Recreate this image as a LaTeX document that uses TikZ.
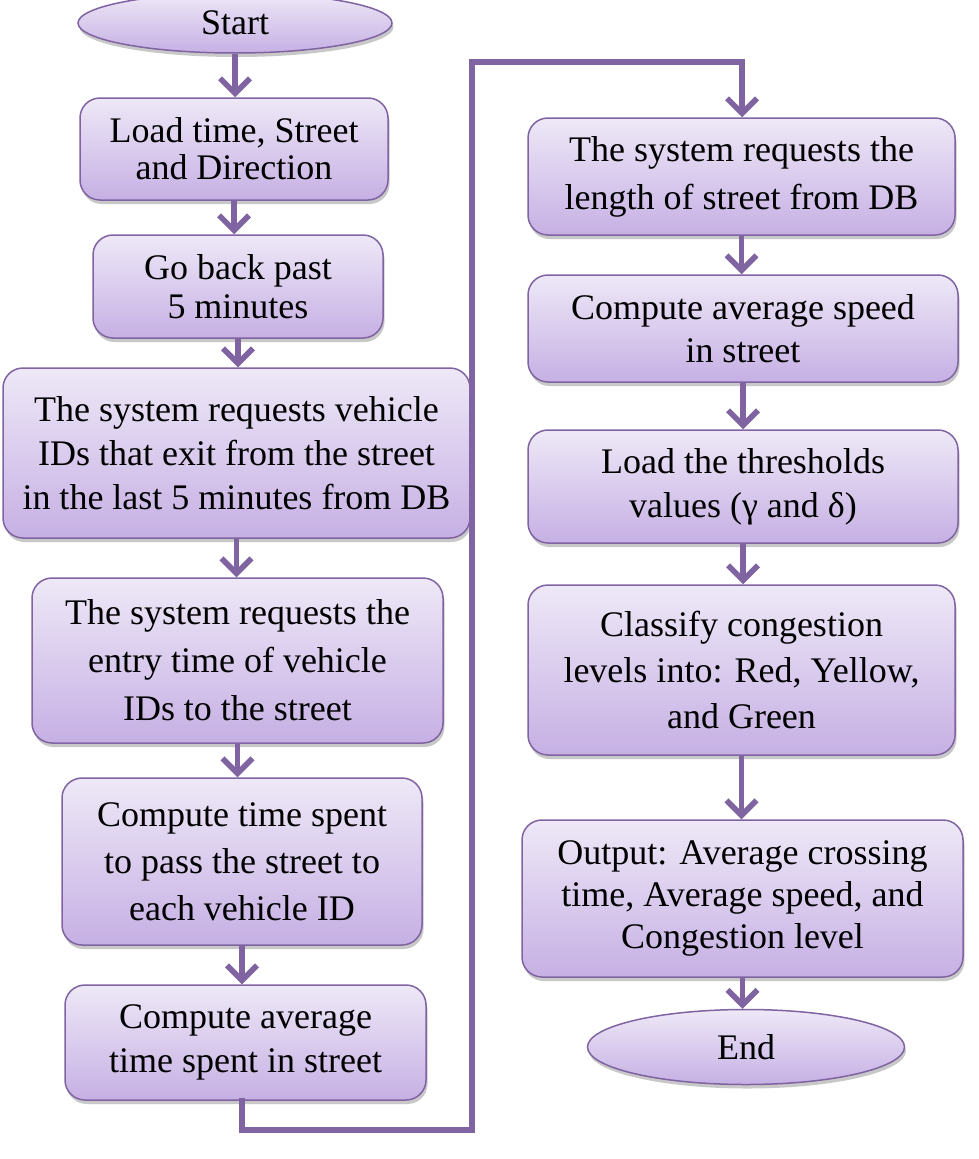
\documentclass[tikz,border=0pt]{standalone}
\usepackage{fontspec}
\setmainfont{Liberation Serif}
\usetikzlibrary{arrows.meta,shapes.geometric,shadows}
\definecolor{pborder}{HTML}{8064A2}
\definecolor{ptop}{HTML}{EEE8F7}
\definecolor{pbot}{HTML}{C6B0E4}
\begin{document}
\begin{tikzpicture}[x=1pt,y=-1pt,
  base/.style={draw=pborder, line width=1.5pt, top color=ptop, bottom color=pbot,
    align=center, inner sep=2pt, text=black,
    drop shadow={shadow xshift=1.5pt, shadow yshift=-4pt, opacity=0.3, fill=black!70}},
  box/.style={base, rounded corners=20pt, font=\fontsize{36}{45}\selectfont},
  term/.style={base, ellipse, inner sep=0pt, font=\fontsize{36}{40}\selectfont},
  arr/.style={draw=pborder, line width=5.5pt, -{Straight Barb[length=15pt,width=30pt,line width=5.5pt]}},
  link/.style={draw=pborder, line width=5.5pt, line cap=rect, line join=miter}
]
\useasboundingbox[fill=white] (0,0) rectangle (979,1159);

% left column
\node[term, minimum width=314pt, minimum height=60pt] (start) at (235,23) {Start};
\node[box, minimum width=308pt, minimum height=102pt, font=\fontsize{36}{37}\selectfont] (b1) at (234,149) {Load time, Street\\and Direction};
\node[box, minimum width=290pt, minimum height=103pt, font=\fontsize{36}{39}\selectfont] (b2) at (238,286.5) {Go back past\\5 minutes};
\node[box, minimum width=467pt, minimum height=170pt, font=\fontsize{36}{44}\selectfont] (b3) at (236.5,453) {The system requests vehicle\\IDs that exit from the street\\in the last 5 minutes from DB};
\node[box, minimum width=411pt, minimum height=165pt, font=\fontsize{36}{48}\selectfont] (b4) at (237.5,660.5) {The system requests the\\entry time of vehicle\\IDs to the street};
\node[box, minimum width=360pt, minimum height=167pt, font=\fontsize{36}{47}\selectfont] (b5) at (242,861.5) {Compute time spent\\to pass the street to\\each vehicle ID};
\node[box, minimum width=361pt, minimum height=115pt, font=\fontsize{36}{44}\selectfont] (b6) at (245.5,1042.5) {Compute average\\time spent in street};

% right column
\node[box, minimum width=427pt, minimum height=117pt, font=\fontsize{36}{48}\selectfont] (r1) at (741.5,176.5) {The system requests the\\length of street from DB};
\node[box, minimum width=430pt, minimum height=107pt, font=\fontsize{36}{43}\selectfont] (r2) at (743,328.5) {Compute average speed\\in street};
\node[box, minimum width=430pt, minimum height=113pt, font=\fontsize{36}{44}\selectfont] (r3) at (743,486.5) {Load the thresholds\\values (γ and δ)};
\node[box, minimum width=427pt, minimum height=170pt, font=\fontsize{36}{46}\selectfont] (r4) at (741.5,670) {Classify congestion\\levels into: Red, Yellow,\\and Green};
\node[box, minimum width=441pt, minimum height=157pt, font=\fontsize{36}{42}\selectfont] (r5) at (742.5,898.5) {Output: Average crossing\\time, Average speed, and\\Congestion level};
\node[term, minimum width=317pt, minimum height=75pt] (end) at (746,1047) {End};

% arrows left
\draw[arr] (start.south) -- (start.south |- b1.north);
\draw[arr] (b1.south) -- (b1.south |- b2.north);
\draw[arr] (b2.south) -- (b2.south |- b3.north);
\draw[arr] (b3.south) -- (b3.south |- b4.north);
\draw[arr] (b4.south) -- (b4.south |- b5.north);
\draw[arr] (b5.south) -- (b5.south |- b6.north);

% crossing connector
\coordinate (k1) at (242,1130);
\coordinate (k2) at (472,1130);
\coordinate (k3) at (472,62);
\coordinate (k4) at (742,62);
\draw[link] (b6.south -| k1) -- (k1) -- (k2) -- (k3) -- (k4);
\draw[arr] (k4) -- (k4 |- r1.north);

% arrows right
\draw[arr] (r1.south) -- (r1.south |- r2.north);
\draw[arr] (r2.south) -- (r2.south |- r3.north);
\draw[arr] (r3.south) -- (r3.south |- r4.north);
\draw[arr] (r4.south) -- (r4.south |- r5.north);
\draw[arr] (r5.south) -- (r5.south |- end.north);
\end{tikzpicture}
\end{document}
